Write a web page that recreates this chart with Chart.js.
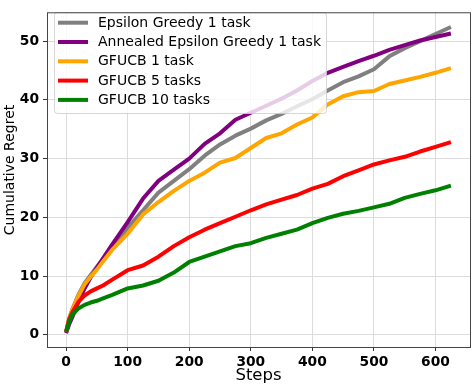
<!DOCTYPE html>
<html>
<head>
<meta charset="utf-8">
<script src="https://cdn.jsdelivr.net/npm/chart.js@4"></script>
<style>
  html, body { margin: 0; padding: 0; background: #fff; }
  #wrap { width: 474px; height: 389px; position: relative; }
</style>
</head>
<body>
<div id="wrap"><canvas id="regretChart"></canvas></div>
<script>
const steps = [0, 5, 10, 20, 30, 40, 50, 60, 75, 100, 125, 150, 175, 200, 225, 250, 275,
  300, 325, 350, 375, 400, 425, 450, 475, 500, 525, 550, 575, 600, 625];

const epsGreedy = [0.5, 2.8, 4.3, 6.8, 8.8, 10.2, 11.6, 12.9, 14.9, 18.2, 21.2, 24.2, 26.2,
  28.2, 30.5, 32.4, 33.9, 35.1, 36.5, 37.6, 38.9, 40.1, 41.6, 43.0, 44.0, 45.2, 47.4, 48.8,
  50.0, 51.2, 52.4];
const annealedEps = [0.3, 1.8, 3.0, 5.6, 7.9, 9.8, 11.4, 13.0, 15.4, 19.2, 23.2, 26.2, 28.1,
  30.0, 32.5, 34.3, 36.6, 37.8, 39.0, 40.2, 41.6, 43.2, 44.6, 45.6, 46.6, 47.5, 48.5, 49.3,
  50.1, 50.7, 51.3];
const gfucb1 = [0.5, 2.8, 4.2, 6.6, 8.6, 9.9, 11.1, 12.5, 14.5, 17.2, 20.5, 22.6, 24.5,
  26.2, 27.6, 29.3, 30.1, 31.8, 33.5, 34.3, 35.8, 37.0, 39.2, 40.6, 41.3, 41.5, 42.7, 43.3,
  43.9, 44.6, 45.4];
const gfucb5 = [0.5, 2.6, 3.8, 5.6, 6.7, 7.4, 7.9, 8.4, 9.4, 11.0, 11.8, 13.3, 15.1,
  16.6, 17.9, 19.0, 20.1, 21.2, 22.2, 23.0, 23.8, 24.9, 25.7, 27.0, 28.0, 29.0, 29.7, 30.3,
  31.2, 32.0, 32.8];
const gfucb10 = [0.5, 2.2, 3.4, 4.5, 5.1, 5.5, 5.8, 6.2, 6.8, 7.9, 8.4, 9.2, 10.6,
  12.4, 13.3, 14.2, 15.1, 15.6, 16.5, 17.2, 17.9, 19.0, 19.9, 20.6, 21.1, 21.7, 22.3, 23.3,
  24.0, 24.6, 25.4];

const seriesNames = ['Epsilon Greedy 1 task', 'Annealed Epsilon Greedy 1 task',
  'GFUCB 1 task', 'GFUCB 5 tasks', 'GFUCB 10 tasks'];
const seriesColors = ['#808080', '#800080', '#ffa500', '#ff0000', '#008000'];
const seriesValues = [epsGreedy, annealedEps, gfucb1, gfucb5, gfucb10];

const xTicks = [0, 100, 200, 300, 400, 500, 600];
const yTicks = [0, 10, 20, 30, 40, 50];

const FONT = 'DejaVu Sans';

// matplotlib-like legend, drawn inside the plot (upper left), plus frame and y title
const boxLegend = {
  id: 'boxLegend',
  afterDatasetsDraw(chart) {
    const ctx = chart.ctx;
    const x0 = 54, y0 = 12, w = 272, h = 101, rowH = 19.3;
    ctx.save();
    ctx.beginPath();
    ctx.roundRect(x0 + 0.5, y0 + 0.5, w, h, 3);
    ctx.fillStyle = 'rgba(255,255,255,0.8)';
    ctx.fill();
    ctx.strokeStyle = 'rgba(204,204,204,0.8)';
    ctx.lineWidth = 1;
    ctx.stroke();
    ctx.font = '14px "' + FONT + '"';
    ctx.textBaseline = 'middle';
    ctx.fillStyle = '#000';
    chart.data.datasets.forEach((ds, i) => {
      const y = y0 + 10.7 + i * rowH;
      ctx.beginPath();
      ctx.moveTo(58, y);
      ctx.lineTo(88, y);
      ctx.strokeStyle = ds.borderColor;
      ctx.lineWidth = 4;
      ctx.stroke();
      ctx.fillText(ds.label, 98, y + 0.5);
    });
    ctx.restore();
  },
  afterDraw(chart) {
    const a = chart.chartArea;
    const ctx = chart.ctx;
    ctx.save();
    ctx.strokeStyle = '#444';
    ctx.lineWidth = 1;
    ctx.strokeRect(a.left + 0.5, a.top + 0.5, a.right - a.left, a.bottom - a.top);
    // y axis title
    ctx.translate(10, 170);
    ctx.rotate(-Math.PI / 2);
    ctx.font = '14px "' + FONT + '"';
    ctx.fillStyle = '#000';
    ctx.textAlign = 'center';
    ctx.textBaseline = 'middle';
    ctx.fillText('Cumulative Regret', 0, 0);
    ctx.restore();
  }
};

new Chart(document.getElementById('regretChart'), {
  type: 'line',
  data: {
    datasets: seriesValues.map((vals, i) => ({
      label: seriesNames[i],
      data: steps.map((s, j) => ({ x: s, y: vals[j] })),
      borderColor: seriesColors[i],
      backgroundColor: seriesColors[i],
      borderWidth: 4,
      pointRadius: 0,
      tension: 0,
      fill: false,
      borderJoinStyle: 'round',
      order: seriesValues.length - i
    }))
  },
  options: {
    responsive: true,
    maintainAspectRatio: false,
    animation: false,
    layout: { padding: { top: 5, right: 4, left: 0, bottom: 0 } },
    plugins: {
      legend: { display: false },
      tooltip: { enabled: false }
    },
    scales: {
      x: {
        type: 'linear',
        min: -31,
        max: 656,
        afterBuildTicks: scale => { scale.ticks = xTicks.map(v => ({ value: v })); },
        afterFit: scale => { scale.height = 42; },
        grid: { color: '#dcdcdc', tickColor: '#333', tickLength: 4 },
        border: { display: false },
        ticks: { color: '#000', font: { family: FONT, size: 13.8, weight: 'bold' }, padding: 3, maxRotation: 0 },
        title: { display: true, text: 'Steps', color: '#000',
          font: { family: FONT, size: 16.5 }, padding: { top: 0, bottom: 3 } }
      },
      y: {
        min: -2.07,
        max: 54.9,
        afterBuildTicks: scale => { scale.ticks = yTicks.map(v => ({ value: v })); },
        afterFit: scale => { scale.width = 47; },
        grid: { color: '#dcdcdc', tickColor: '#333', tickLength: 4 },
        border: { display: false },
        ticks: { color: '#000', font: { family: FONT, size: 13.8, weight: 'bold' }, padding: 4 },
        title: { display: false, text: 'Cumulative Regret' }
      }
    }
  },
  plugins: [boxLegend]
});
</script>
</body>
</html>
